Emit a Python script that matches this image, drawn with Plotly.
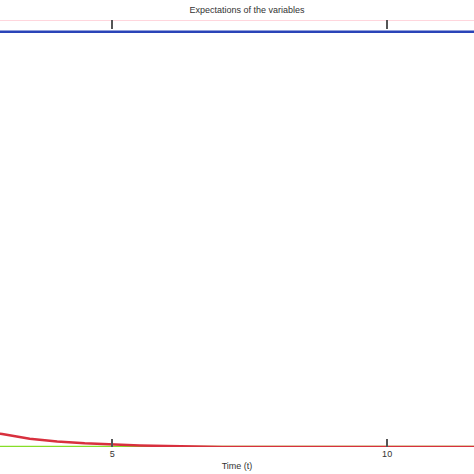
import plotly.graph_objects as go

# time steps and expectation of each variable
t = [0, 1, 2, 2.5, 3, 3.5, 4, 4.5, 5, 5.5, 6, 6.5, 7, 8, 9, 10, 11, 12]
x_top = [36, 36, 36, 36, 36, 36, 36, 36, 36, 36, 36, 36, 36, 36, 36, 36, 36, 36]
x_blue = [35, 35, 35, 35, 35, 35, 35, 35, 35, 35, 35, 35, 35, 35, 35, 35, 35, 35]
x_red = [3.2, 2.4, 1.75, 1.45, 1.1, 0.7, 0.46, 0.31, 0.2, 0.13, 0.08, 0.03, 0, 0, 0, 0, 0, 0]
x_green = [0, 0, 0, 0, 0, 0, 0, 0, 0, 0, 0, 0, 0, 0, 0, 0, 0, 0]

fig = go.Figure()
fig.add_trace(go.Scatter(x=t, y=x_top, mode='lines', line=dict(color='#ffc8d2', width=1.5)))
fig.add_trace(go.Scatter(x=t, y=x_blue, mode='lines', line=dict(color='#2a44b8', width=2.5)))
fig.add_trace(go.Scatter(x=t, y=x_green, mode='lines', line=dict(color='#86de28', width=2.5)))
fig.add_trace(go.Scatter(x=t, y=x_red, mode='lines', line=dict(color='#d8303e', width=2.5)))

# invisible trace to carry the top axis ticks
fig.add_trace(go.Scatter(x=t, y=x_green, xaxis='x2', mode='lines',
                         line=dict(width=0), hoverinfo='skip'))

fig.update_layout(
    width=474, height=474,
    margin=dict(l=0, r=0, t=20, b=27),
    paper_bgcolor='white', plot_bgcolor='white',
    showlegend=False,
    font=dict(family='Liberation Sans, Arial', size=9, color='#333333'),
    title=dict(text='Expectations of the variables', x=0.521, xanchor='center',
               y=1 - 10 / 474, yanchor='middle', font=dict(size=9, color='#333333')),
    xaxis=dict(range=[2.96, 11.58], tickvals=[5, 10], ticktext=['5', '10'],
               ticks='inside', ticklen=8, tickwidth=1.5, tickcolor='#555555',
               showgrid=False, zeroline=False, showline=False,
               title=dict(text='Time (t)', standoff=4, font=dict(size=9)),
               automargin=False),
    xaxis2=dict(overlaying='x', side='top', matches='x', tickvals=[5, 10],
                showticklabels=False, ticks='inside', ticklen=9, tickwidth=1.5,
                tickcolor='#555555', showgrid=False, zeroline=False, showline=False),
    yaxis=dict(range=[0, 36], showticklabels=False, showgrid=False,
               zeroline=False, showline=False, ticks=''),
)

fig.write_html("out.html", config={'displayModeBar': False},
               post_script="document.body.style.margin='0';")
